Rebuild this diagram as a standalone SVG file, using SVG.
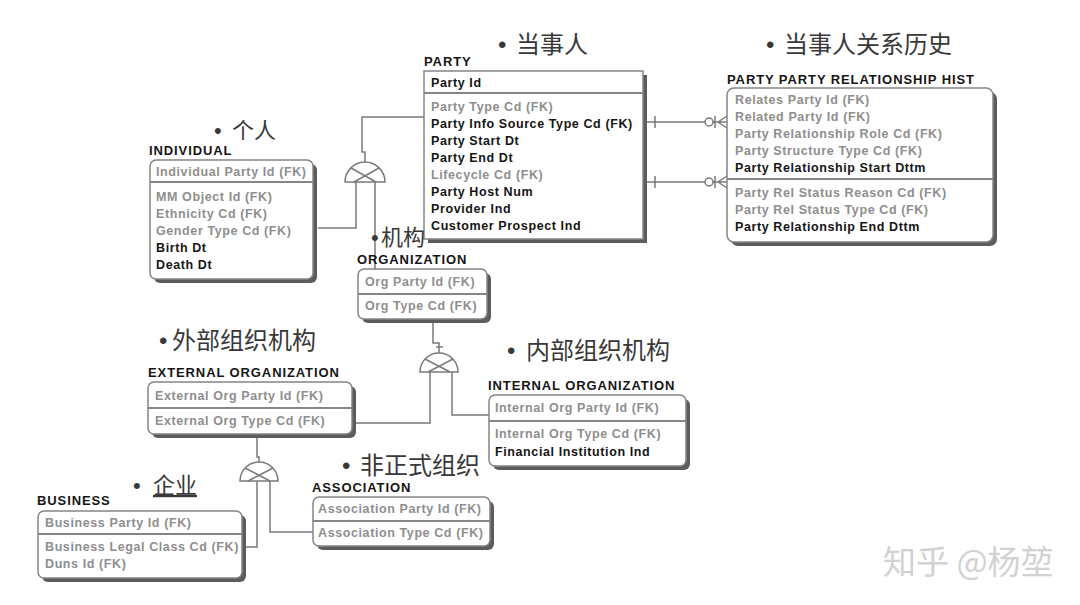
<svg xmlns="http://www.w3.org/2000/svg" width="1080" height="605" viewBox="0 0 1080 605">
<style>
.bg{fill:#fff}
.shd{fill:#5c5c5c}
.box{fill:#fff;stroke:#858585;stroke-width:1.5}
.sep{stroke:#858585;stroke-width:1.8}
.ttl{font-family:"Liberation Sans",Arial,sans-serif;font-weight:bold;font-size:13px;letter-spacing:0.9px;fill:#151515}
.k{font-family:"Liberation Sans",Arial,sans-serif;font-weight:bold;font-size:12.5px;letter-spacing:0.6px;fill:#151515}
.g{font-family:"Liberation Sans",Arial,sans-serif;font-weight:bold;font-size:12.5px;letter-spacing:0.6px;fill:#8e8e8e}
.ln{fill:none;stroke:#7a7a7a;stroke-width:1.5}
.sym{fill:#fff;stroke:#7a7a7a;stroke-width:1.5}
.cn{font-family:"Noto Sans CJK SC","Noto Sans",sans-serif;font-size:24px;fill:#383838}
.cs{font-family:"Noto Sans CJK SC","Noto Sans",sans-serif;font-size:22px;fill:#383838}
.b{font-family:"Liberation Sans",Arial,sans-serif}
.wm{font-family:"Noto Sans CJK SC","Noto Sans",sans-serif;font-size:33px;fill:#d2d2d2}
</style>
<rect class="bg" x="0" y="0" width="1080" height="605"/>

<g id="connectors">
  <!-- PARTY to PARTY PARTY RELATIONSHIP HIST -->
  <path class="ln" d="M643,122 H727 M655,116 V128 M715,116 V128 M718,122 L727,116 M718,122 L727,128"/>
  <circle class="sym" cx="709" cy="122" r="4"/>
  <path class="ln" d="M643,182 H727 M655,176 V188 M715,176 V188 M718,182 L727,176 M718,182 L727,188"/>
  <circle class="sym" cx="709" cy="182" r="4"/>

  <!-- PARTY subtype: INDIVIDUAL / ORGANIZATION -->
  <path class="ln" d="M424,117 H362 V152 H365 V162"/>
  <path class="sym" d="M345,182 A20,20 0 0 1 385,182 Z"/>
  <path class="ln" d="M351,168 L376,182 M379,168 L354,182"/>
  <path class="ln" d="M356,182 V228 H318"/>
  <path class="ln" d="M375,182 V269"/>

  <!-- ORGANIZATION subtype: EXTERNAL / INTERNAL -->
  <path class="ln" d="M433,323 V343 H439 V353"/>
  <path class="ln" d="M436,347 H443"/>
  <path class="sym" d="M420,372 A19,19 0 0 1 458,372 Z"/>
  <path class="ln" d="M425,359 L450,372 M453,359 L428,372"/>
  <path class="ln" d="M430,372 V423 H356"/>
  <path class="ln" d="M452,372 V415 H489"/>

  <!-- EXTERNAL ORGANIZATION subtype: BUSINESS / ASSOCIATION -->
  <path class="ln" d="M257,438 V457 H259 V462"/>
  <path class="sym" d="M240,481 A19,19 0 0 1 278,481 Z"/>
  <path class="ln" d="M245,468 L270,481 M273,468 L248,481"/>
  <path class="ln" d="M257,481 V547 H246"/>
  <path class="ln" d="M270,481 V532 H313"/>
</g>

<g id="party">
  <text class="ttl" x="424" y="66">PARTY</text>
  <rect class="shd" x="428" y="75" width="219" height="168"/>
  <rect class="box" x="424" y="71" width="219" height="168"/>
  <line class="sep" x1="424" y1="93" x2="643" y2="93"/>
  <text class="k" x="431" y="87">Party Id</text>
  <text class="g" x="431" y="111">Party Type Cd (FK)</text>
  <text class="k" x="431" y="128">Party Info Source Type Cd (FK)</text>
  <text class="k" x="431" y="145">Party Start Dt</text>
  <text class="k" x="431" y="162">Party End Dt</text>
  <text class="g" x="431" y="179">Lifecycle Cd (FK)</text>
  <text class="k" x="431" y="196">Party Host Num</text>
  <text class="k" x="431" y="213">Provider Ind</text>
  <text class="k" x="431" y="230">Customer Prospect Ind</text>
</g>

<g id="party-party-relationship-hist">
  <text class="ttl" x="727" y="84">PARTY PARTY RELATIONSHIP HIST</text>
  <rect class="shd" x="731" y="92" width="266" height="154" rx="7"/>
  <rect class="box" x="727" y="88" width="266" height="154" rx="7"/>
  <line class="sep" x1="727" y1="179" x2="993" y2="179"/>
  <text class="g" x="735" y="104">Relates Party Id (FK)</text>
  <text class="g" x="735" y="121">Related Party Id (FK)</text>
  <text class="g" x="735" y="138">Party Relationship Role Cd (FK)</text>
  <text class="g" x="735" y="155">Party Structure Type Cd (FK)</text>
  <text class="k" x="735" y="172">Party Relationship Start Dttm</text>
  <text class="g" x="735" y="197">Party Rel Status Reason Cd (FK)</text>
  <text class="g" x="735" y="214">Party Rel Status Type Cd (FK)</text>
  <text class="k" x="735" y="231">Party Relationship End Dttm</text>
</g>

<g id="individual">
  <text class="ttl" x="149" y="155">INDIVIDUAL</text>
  <rect class="shd" x="154" y="164" width="163" height="119" rx="6"/>
  <rect class="box" x="150" y="160" width="163" height="119" rx="6"/>
  <line class="sep" x1="150" y1="182" x2="313" y2="182"/>
  <text class="g" x="156" y="176">Individual Party Id (FK)</text>
  <text class="g" x="156" y="201">MM Object Id (FK)</text>
  <text class="g" x="156" y="218">Ethnicity Cd (FK)</text>
  <text class="g" x="156" y="235">Gender Type Cd (FK)</text>
  <text class="k" x="156" y="252">Birth Dt</text>
  <text class="k" x="156" y="269">Death Dt</text>
</g>

<g id="organization">
  <text class="ttl" x="357" y="264">ORGANIZATION</text>
  <rect class="shd" x="362" y="273" width="129" height="50" rx="6"/>
  <rect class="box" x="358" y="269" width="129" height="50" rx="6"/>
  <line class="sep" x1="358" y1="294" x2="487" y2="294"/>
  <text class="g" x="365" y="286">Org Party Id (FK)</text>
  <text class="g" x="365" y="310">Org Type Cd (FK)</text>
</g>

<g id="external-organization">
  <text class="ttl" x="148" y="377">EXTERNAL ORGANIZATION</text>
  <rect class="shd" x="152" y="386" width="204" height="52" rx="6"/>
  <rect class="box" x="148" y="382" width="204" height="52" rx="6"/>
  <line class="sep" x1="148" y1="408" x2="352" y2="408"/>
  <text class="g" x="155" y="400">External Org Party Id (FK)</text>
  <text class="g" x="155" y="425">External Org Type Cd (FK)</text>
</g>

<g id="internal-organization">
  <text class="ttl" x="488" y="390">INTERNAL ORGANIZATION</text>
  <rect class="shd" x="493" y="399" width="197" height="71" rx="6"/>
  <rect class="box" x="489" y="395" width="197" height="71" rx="6"/>
  <line class="sep" x1="489" y1="421" x2="686" y2="421"/>
  <text class="g" x="495" y="412">Internal Org Party Id (FK)</text>
  <text class="g" x="495" y="438">Internal Org Type Cd (FK)</text>
  <text class="k" x="495" y="456">Financial Institution Ind</text>
</g>

<g id="business">
  <text class="ttl" x="37" y="505">BUSINESS</text>
  <rect class="shd" x="42" y="515" width="204" height="67" rx="6"/>
  <rect class="box" x="38" y="511" width="204" height="67" rx="6"/>
  <line class="sep" x1="38" y1="534" x2="242" y2="534"/>
  <text class="g" x="45" y="527">Business Party Id (FK)</text>
  <text class="g" x="45" y="551">Business Legal Class Cd (FK)</text>
  <text class="g" x="45" y="568">Duns Id (FK)</text>
</g>

<g id="association">
  <text class="ttl" x="312" y="492">ASSOCIATION</text>
  <rect class="shd" x="317" y="501" width="177" height="49" rx="6"/>
  <rect class="box" x="313" y="497" width="177" height="49" rx="6"/>
  <line class="sep" x1="313" y1="521" x2="490" y2="521"/>
  <text class="g" x="318" y="513">Association Party Id (FK)</text>
  <text class="g" x="318" y="537">Association Type Cd (FK)</text>
</g>

<g id="labels">
  <text class="cn" y="53"><tspan class="b" x="498">•</tspan><tspan x="516">当事人</tspan></text>
  <text class="cn" y="53"><tspan class="b" x="766">•</tspan><tspan x="784">当事人关系历史</tspan></text>
  <text class="cs" y="138"><tspan class="b" x="214">•</tspan><tspan x="232">个人</tspan></text>
  <text class="cs" y="245"><tspan class="b" x="371">•</tspan><tspan x="381">机构</tspan></text>
  <text class="cn" y="349"><tspan class="b" x="159">•</tspan><tspan x="172">外部组织机构</tspan></text>
  <text class="cn" y="359"><tspan class="b" x="507">•</tspan><tspan x="526">内部组织机构</tspan></text>
  <text class="cs" y="493"><tspan class="b" x="133">•</tspan><tspan x="153" text-decoration="underline">企业</tspan></text>
  <text class="cn" y="474"><tspan class="b" x="342">•</tspan><tspan x="360">非正式组织</tspan></text>
  <text class="wm" x="883" y="574">知乎 @杨堃</text>
</g>
</svg>
